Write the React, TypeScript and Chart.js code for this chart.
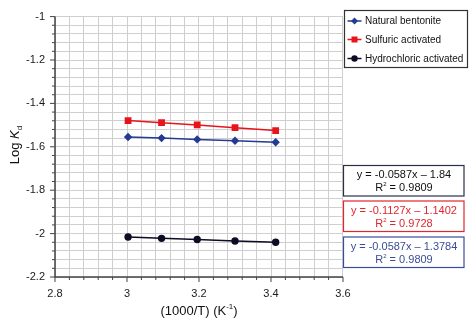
import React, { useEffect, useRef } from "react";
import { Chart, registerables } from "chart.js";

Chart.register(...registerables);

const xValues = [3.003, 3.096, 3.195, 3.3, 3.413];
const naturalBentonite = [-1.555, -1.56, -1.566, -1.572, -1.579];
const sulfuricActivated = [-1.479, -1.489, -1.499, -1.512, -1.525];
const hydrochloricActivated = [-2.016, -2.022, -2.027, -2.034, -2.04];

const seriesNames = ["Natural bentonite", "Sulfuric activated", "Hydrochloric activated"];
const seriesColors = ["#253a92", "#e8131b", "#0c0c24"];
const seriesShapes = ["rectRot", "rect", "circle"];

const equationLines = [
  ["y = -0.0587x \u2013 1.84", "0.9809"],
  ["y = -0.1127x \u2013 1.1402", "0.9728"],
  ["y = -0.0587x \u2013 1.3784", "0.9809"],
];
const equationColors = [
  { border: "#2b3048", text: "#111111" },
  { border: "#e0262e", text: "#e0262e" },
  { border: "#3a4d9a", text: "#3a4d9a" },
];

const FONT = "'Liberation Sans', Arial, sans-serif";

const isMajor = (v: number) => Math.abs(v * 5 - Math.round(v * 5)) < 1e-6;
const fmt = (v: number) => String(Math.round(v * 10) / 10);

const overlay = {
  id: "overlay",
  afterDraw(chart: any) {
    const ctx = chart.ctx as CanvasRenderingContext2D;
    const { left, right, top, bottom } = chart.chartArea;
    const xs = chart.scales.x;
    const ys = chart.scales.y;
    ctx.save();
    // axes lines
    ctx.strokeStyle = "#444444";
    ctx.lineWidth = 1.5;
    ctx.beginPath();
    ctx.moveTo(left, top);
    ctx.lineTo(left, bottom);
    ctx.lineTo(right, bottom);
    ctx.stroke();
    ctx.lineWidth = 1;
    // ticks
    for (const t of ys.ticks) {
      const y = ys.getPixelForValue(t.value);
      const len = isMajor(t.value) ? 5 : 3;
      ctx.beginPath();
      ctx.moveTo(left - len, y);
      ctx.lineTo(left, y);
      ctx.stroke();
    }
    for (const t of xs.ticks) {
      const x = xs.getPixelForValue(t.value);
      const len = isMajor(t.value) ? 5 : 3;
      ctx.beginPath();
      ctx.moveTo(x, bottom);
      ctx.lineTo(x, bottom + len);
      ctx.stroke();
    }
    // y axis title
    ctx.fillStyle = "#111";
    ctx.save();
    ctx.translate(19, 145);
    ctx.rotate(-Math.PI / 2);
    ctx.textBaseline = "alphabetic";
    ctx.font = `13px ${FONT}`;
    const w1 = ctx.measureText("Log ").width;
    ctx.font = `italic 13px ${FONT}`;
    const w2 = ctx.measureText("K").width;
    ctx.font = `8px ${FONT}`;
    const w3 = ctx.measureText("d").width;
    let sx = -(w1 + w2 + w3) / 2;
    ctx.font = `13px ${FONT}`;
    ctx.textAlign = "left";
    ctx.fillText("Log ", sx, 0);
    sx += w1;
    ctx.font = `italic 13px ${FONT}`;
    ctx.fillText("K", sx, 0);
    sx += w2;
    ctx.font = `8px ${FONT}`;
    ctx.fillText("d", sx, 3);
    ctx.restore();
    // x axis title
    ctx.font = `13px ${FONT}`;
    ctx.textBaseline = "alphabetic";
    const a = "(1000/T) (K";
    const b = "-1";
    const c = ")";
    const wa = ctx.measureText(a).width;
    ctx.font = `8px ${FONT}`;
    const wb = ctx.measureText(b).width;
    ctx.font = `13px ${FONT}`;
    const wc = ctx.measureText(c).width;
    let tx = 199 - (wa + wb + wc) / 2;
    ctx.textAlign = "left";
    ctx.fillText(a, tx, 315);
    tx += wa;
    ctx.font = `8px ${FONT}`;
    ctx.fillText(b, tx, 309);
    tx += wb;
    ctx.font = `13px ${FONT}`;
    ctx.fillText(c, tx, 315);

    // legend
    ctx.strokeStyle = "#333";
    ctx.lineWidth = 1.2;
    ctx.fillStyle = "#fff";
    ctx.fillRect(344.5, 10.5, 123, 57);
    ctx.strokeRect(344.5, 10.5, 123, 57);
    const ly = [21, 39.5, 58.5];
    for (let i = 0; i < 3; i++) {
      ctx.strokeStyle = seriesColors[i];
      ctx.fillStyle = seriesColors[i];
      ctx.lineWidth = 1.5;
      ctx.beginPath();
      ctx.moveTo(347.5, ly[i]);
      ctx.lineTo(361.5, ly[i]);
      ctx.stroke();
      const cx = 354.5;
      const cy = ly[i];
      ctx.beginPath();
      if (i === 0) {
        ctx.moveTo(cx, cy - 3.5);
        ctx.lineTo(cx + 3.5, cy);
        ctx.lineTo(cx, cy + 3.5);
        ctx.lineTo(cx - 3.5, cy);
        ctx.closePath();
      } else if (i === 1) {
        ctx.rect(cx - 3, cy - 3, 6, 6);
      } else {
        ctx.arc(cx, cy, 3.2, 0, Math.PI * 2);
      }
      ctx.fill();
      ctx.fillStyle = "#111";
      ctx.font = `10px ${FONT}`;
      ctx.textAlign = "left";
      ctx.textBaseline = "middle";
      ctx.fillText(seriesNames[i], 365, ly[i] + 0.5);
    }

    // equation boxes
    const boxTops = [165, 200.5, 236.5];
    for (let i = 0; i < 3; i++) {
      const bt = boxTops[i];
      ctx.strokeStyle = equationColors[i].border;
      ctx.lineWidth = 1.2;
      ctx.strokeRect(343.5, bt + 0.5, 120.5, 30.5);
      ctx.fillStyle = equationColors[i].text;
      ctx.font = `11px ${FONT}`;
      ctx.textAlign = "center";
      ctx.textBaseline = "middle";
      ctx.fillText(equationLines[i][0], 404, bt + 10);
      // R^2 line
      const r1 = "R";
      const r2 = "2";
      const r3 = " = " + equationLines[i][1];
      ctx.font = `11px ${FONT}`;
      const wr1 = ctx.measureText(r1).width;
      const wr3 = ctx.measureText(r3).width;
      ctx.font = `6px ${FONT}`;
      const wr2 = ctx.measureText(r2).width;
      let rx = 404 - (wr1 + wr2 + wr3) / 2;
      ctx.textAlign = "left";
      ctx.font = `11px ${FONT}`;
      ctx.fillText(r1, rx, bt + 23);
      rx += wr1;
      ctx.font = `6px ${FONT}`;
      ctx.fillText(r2, rx, bt + 19.5);
      rx += wr2;
      ctx.font = `11px ${FONT}`;
      ctx.fillText(r3, rx, bt + 23);
    }
    ctx.restore();
  },
};

export default function App() {
  const ref = useRef<HTMLCanvasElement>(null);
  useEffect(() => {
    if (!ref.current) return;
    const datasets = [naturalBentonite, sulfuricActivated, hydrochloricActivated].map((vals, i) => ({
      label: seriesNames[i],
      data: xValues.map((x, j) => ({ x, y: vals[j] })),
      borderColor: seriesColors[i],
      backgroundColor: seriesColors[i],
      borderWidth: 1.5,
      pointStyle: seriesShapes[i] as any,
      pointRadius: i === 0 ? 4.2 : i === 1 ? 4.8 : 3.7,
      pointBorderWidth: 0,
      showLine: true,
      tension: 0,
    }));
    const chart = new Chart(ref.current, {
      type: "scatter",
      data: { datasets },
      options: {
        animation: false,
        responsive: false,
        maintainAspectRatio: false,
        layout: { padding: { left: 0, right: 131, top: 11, bottom: 0 } },
        plugins: { legend: { display: false }, tooltip: { enabled: false } },
        scales: {
          x: {
            type: "linear",
            min: 2.8,
            max: 3.6,
            afterBuildTicks: (scale: any) => {
              const t = [];
              for (let i = 0; i <= 20; i++) t.push({ value: 2.8 + i * 0.04 });
              scale.ticks = t;
            },
            afterFit: (scale: any) => {
              scale.height = 45;
            },
            border: { display: false },
            grid: { color: "#cfcfcf", lineWidth: 1, drawTicks: false },
            ticks: {
              autoSkip: false,
              maxRotation: 0,
              padding: 10,
              color: "#1a1a1a",
              font: { family: FONT, size: 11 },
              callback: (v: any) => (isMajor(Number(v)) ? fmt(Number(v)) : ""),
            },
          },
          y: {
            type: "linear",
            min: -2.2,
            max: -1,
            afterBuildTicks: (scale: any) => {
              const t = [];
              for (let i = 0; i <= 30; i++) t.push({ value: -2.2 + i * 0.04 });
              scale.ticks = t;
            },
            afterFit: (scale: any) => {
              scale.width = 55;
            },
            border: { display: false },
            grid: { color: "#cfcfcf", lineWidth: 1, drawTicks: false },
            ticks: {
              autoSkip: false,
              padding: 10,
              color: "#1a1a1a",
              font: { family: FONT, size: 11 },
              callback: (v: any) => (isMajor(Number(v)) ? fmt(Number(v)) : ""),
            },
          },
        },
      },
      plugins: [overlay],
    });
    return () => chart.destroy();
  }, []);
  return (
    <div style={{ position: "fixed", left: 0, top: 0, width: 474, height: 322, background: "#fff" }}>
      <canvas ref={ref} width={474} height={322} style={{ width: 474, height: 322 }} />
    </div>
  );
}
